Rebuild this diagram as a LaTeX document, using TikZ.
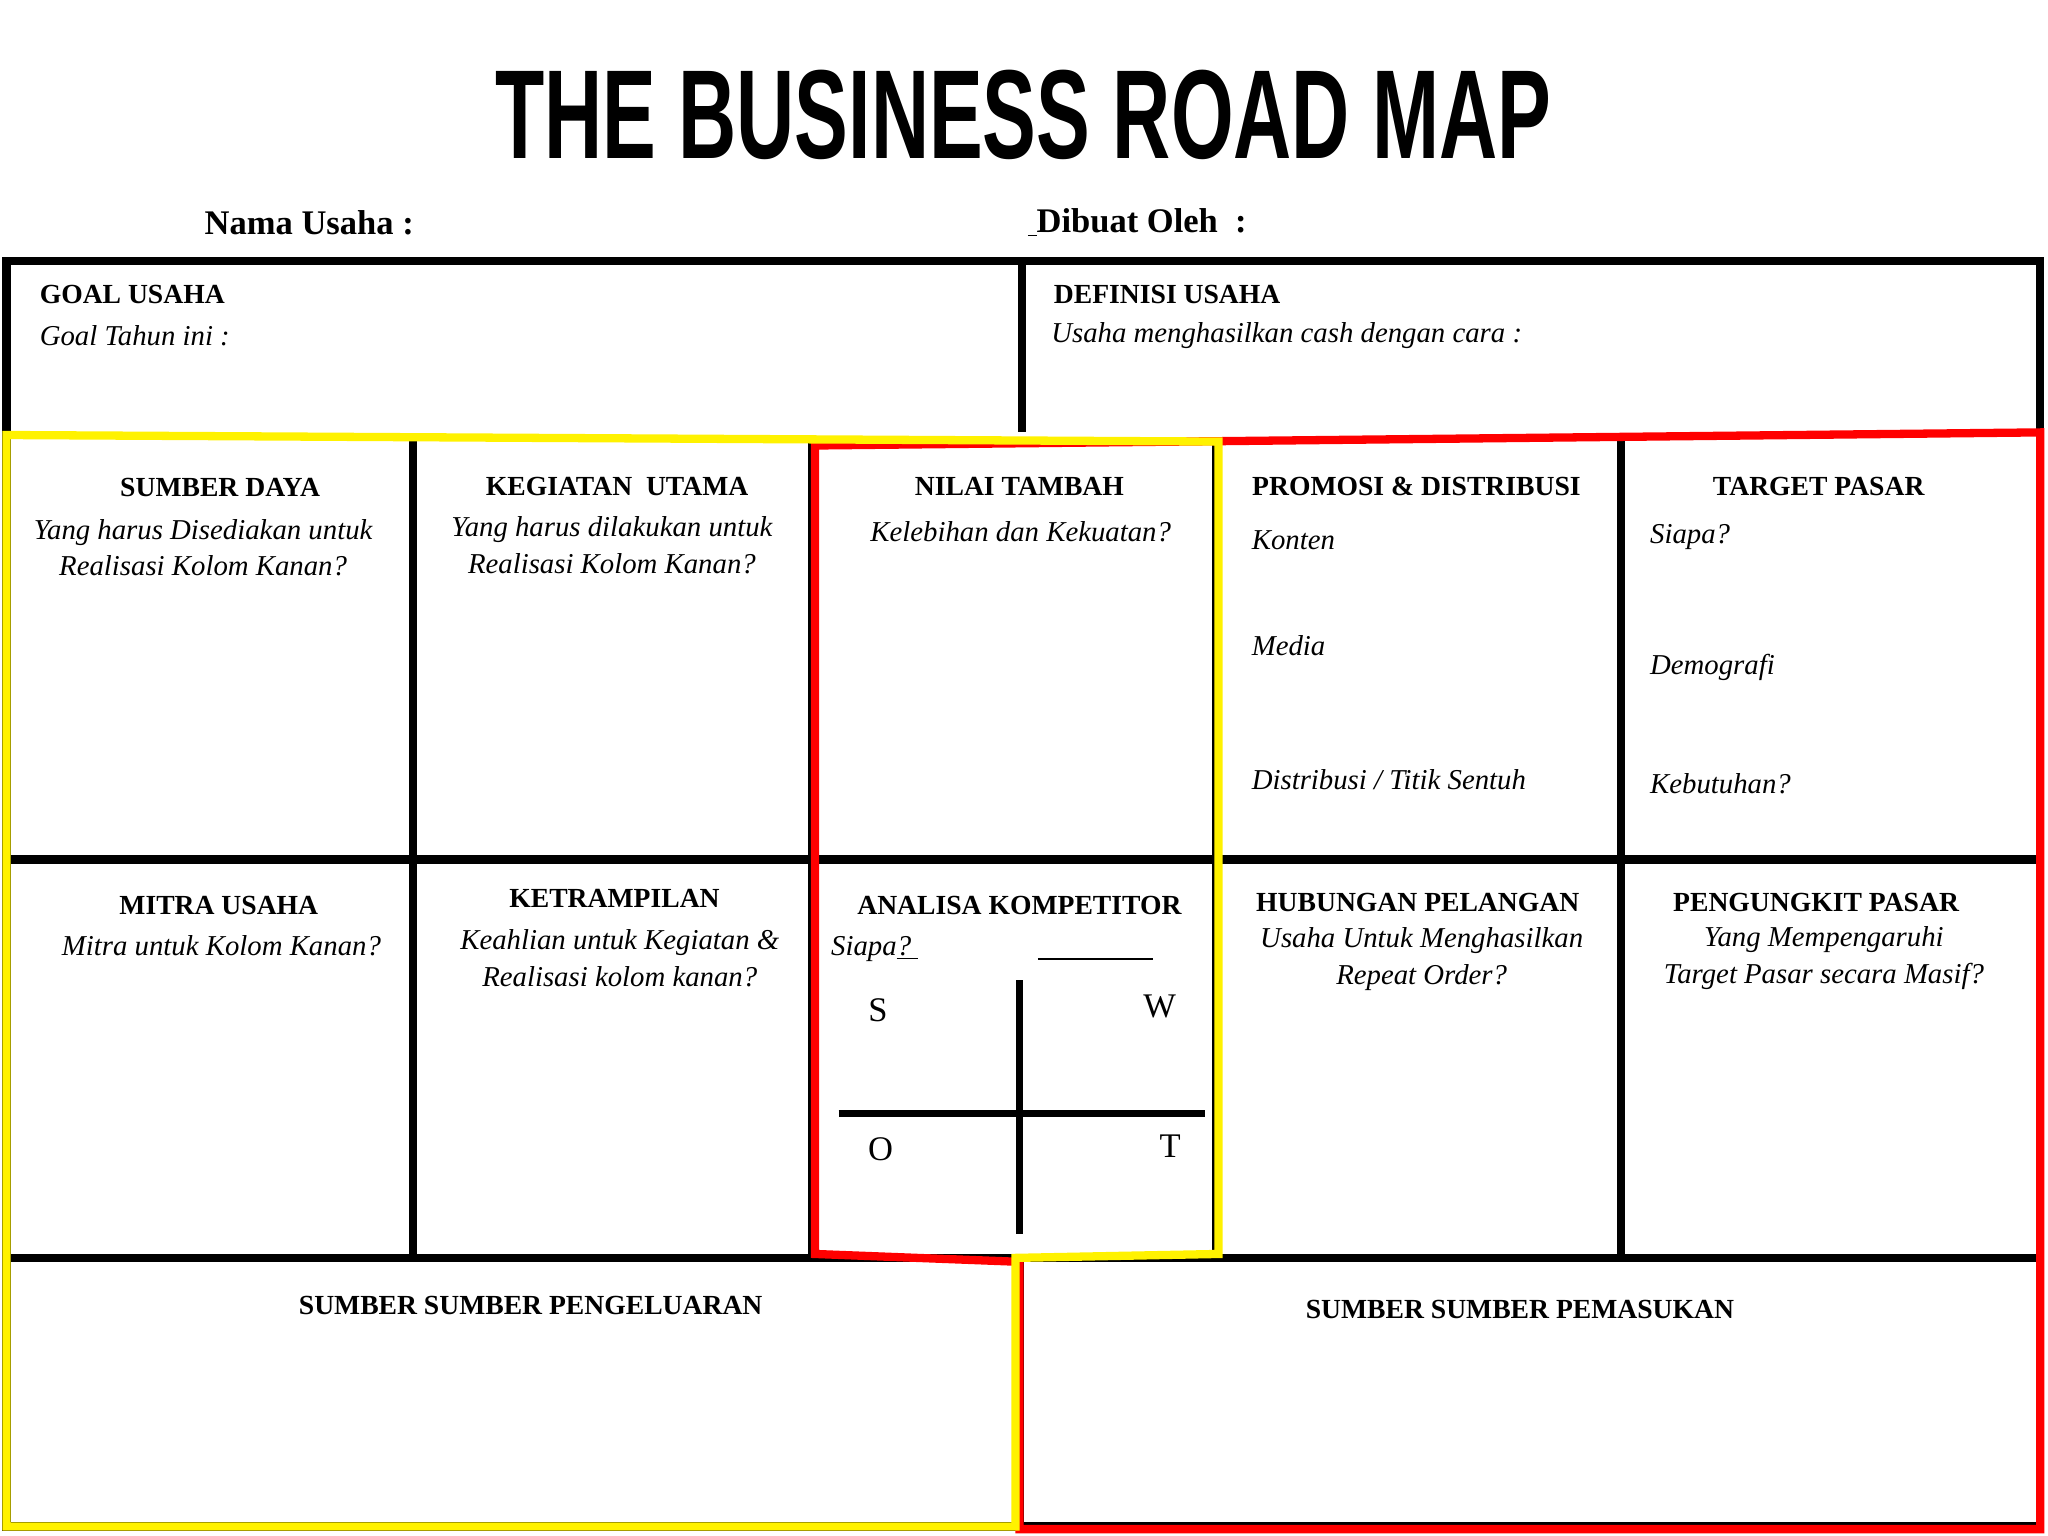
\documentclass[tikz,border=0pt]{standalone}
\usepackage{fontspec}
\setmainfont{Liberation Serif}
\newfontfamily\titlefont{Liberation Sans}
\begin{document}
\begin{tikzpicture}[x=0.02cm,y=-0.02cm,
  blk/.style={line width=3.6pt,black},
  hd/.style={font=\bfseries\fontsize{12}{14}\selectfont,inner sep=0pt},
  it/.style={font=\itshape\fontsize{12.5}{16}\selectfont,inner sep=0pt,align=center},
  itl/.style={font=\itshape\fontsize{12.5}{16}\selectfont,inner sep=0pt,anchor=west},
  sw/.style={font=\fontsize{15}{17}\selectfont,inner sep=0pt}]
\useasboundingbox (0,0) rectangle (1563,1172);
\fill[white] (0,0) rectangle (1563,1172);
% title
\node[inner sep=0pt] (title) at (781,88) {\titlefont\bfseries\fontsize{50}{52}\selectfont\scalebox{0.70}[1.1]{THE BUSINESS ROAD MAP}};
\node[hd,font=\bfseries\fontsize{15}{18}\selectfont] (nama) at (236,170) {Nama Usaha :};
\node[hd,font=\bfseries\fontsize{15}{18}\selectfont] (dibuat) at (868,170) {\underline{\ }Dibuat Oleh\ \ :};
% grid
\draw[blk] (5,199) rectangle (1557,1165);
\draw[blk] (780,199) -- (780,330);
\draw[blk] (5,656) -- (1557,656);
\draw[blk] (5,960) -- (1557,960);
\foreach \x in {315,620,928,1237} \draw[blk] (\x,335) -- (\x,960);
\draw[blk] (778,960) -- (778,1165);
% SWOT
\draw[line width=3.2pt] (778,748) -- (778,942);
\draw[line width=3.2pt] (640,850) -- (920,850);
\draw[line width=0.8pt] (792,732) -- (880,732);
% coloured outlines
\draw[line width=3.6pt,red,line join=miter] (622,340) -- (1557,330) -- (1557,1167) -- (778,1167) -- (778,963) -- (622,957) -- cycle;
\draw[line width=3.6pt,yellow,line join=miter] (5,332) -- (930,337) -- (930,957) -- (775,960) -- (775,1165) -- (5,1165) -- cycle;
% texts top
\node[hd,anchor=west] (goal) at (30,225) {GOAL USAHA};
\node[itl] (goalt) at (30,256) {Goal Tahun ini :};
\node[hd,anchor=west] (def) at (804,225) {DEFINISI USAHA};
\node[itl] (deft) at (802,256) {Usaha menghasilkan cash dengan cara :};
% row 1
\node[hd] (sd) at (168,372) {SUMBER DAYA};
\node[it] (sdt) at (155,418) {Yang harus Disediakan untuk\\Realisasi Kolom Kanan?};
\node[hd] (ku) at (471,371) {KEGIATAN\ \ UTAMA};
\node[it] (kut) at (467,416) {Yang harus dilakukan untuk\\Realisasi Kolom Kanan?};
\node[hd] (nt) at (778,371) {NILAI TAMBAH};
\node[it] (ntt) at (779,406) {Kelebihan dan Kekuatan?};
\node[hd] (pd) at (1081,371) {PROMOSI \& DISTRIBUSI};
\node[itl] (pd1) at (955,412) {Konten};
\node[itl] (pd2) at (955,493) {Media};
\node[itl] (pd3) at (955,595) {Distribusi / Titik Sentuh};
\node[hd] (tp) at (1388,371) {TARGET PASAR};
\node[itl] (tp1) at (1259,410) {Siapa?};
\node[itl] (tp2) at (1259,509) {Demografi};
\node[itl] (tp3) at (1259,598) {Kebutuhan?};
% row 2
\node[hd] (mu) at (167,691) {MITRA USAHA};
\node[it] (mut) at (169,722) {Mitra untuk Kolom Kanan?};
\node[hd] (ke) at (469,686) {KETRAMPILAN};
\node[it] (ket) at (473,731) {Keahlian untuk Kegiatan \&\\Realisasi kolom kanan?};
\node[hd] (ak) at (778,691) {ANALISA KOMPETITOR};
\node[itl] (akt) at (634,724) {Siapa\underline{?\ }};
\node[sw] (s) at (670,771) {S};
\node[sw] (w) at (885,768) {W};
\node[sw] (o) at (672,877) {O};
\node[sw] (t) at (893,875) {T};
\node[hd] (hp) at (1082,689) {HUBUNGAN PELANGAN};
\node[it] (hpt) at (1085,732) {Usaha Untuk Menghasilkan\\Repeat Order?};
\node[hd] (pp) at (1386,689) {PENGUNGKIT PASAR};
\node[it] (ppt) at (1392,731) {Yang Mempengaruhi\\Target Pasar secara Masif?};
% bottom
\node[hd] (spg) at (405,996) {SUMBER SUMBER PENGELUARAN};
\node[hd] (spm) at (1160,999) {SUMBER SUMBER PEMASUKAN};
\end{tikzpicture}
\end{document}
